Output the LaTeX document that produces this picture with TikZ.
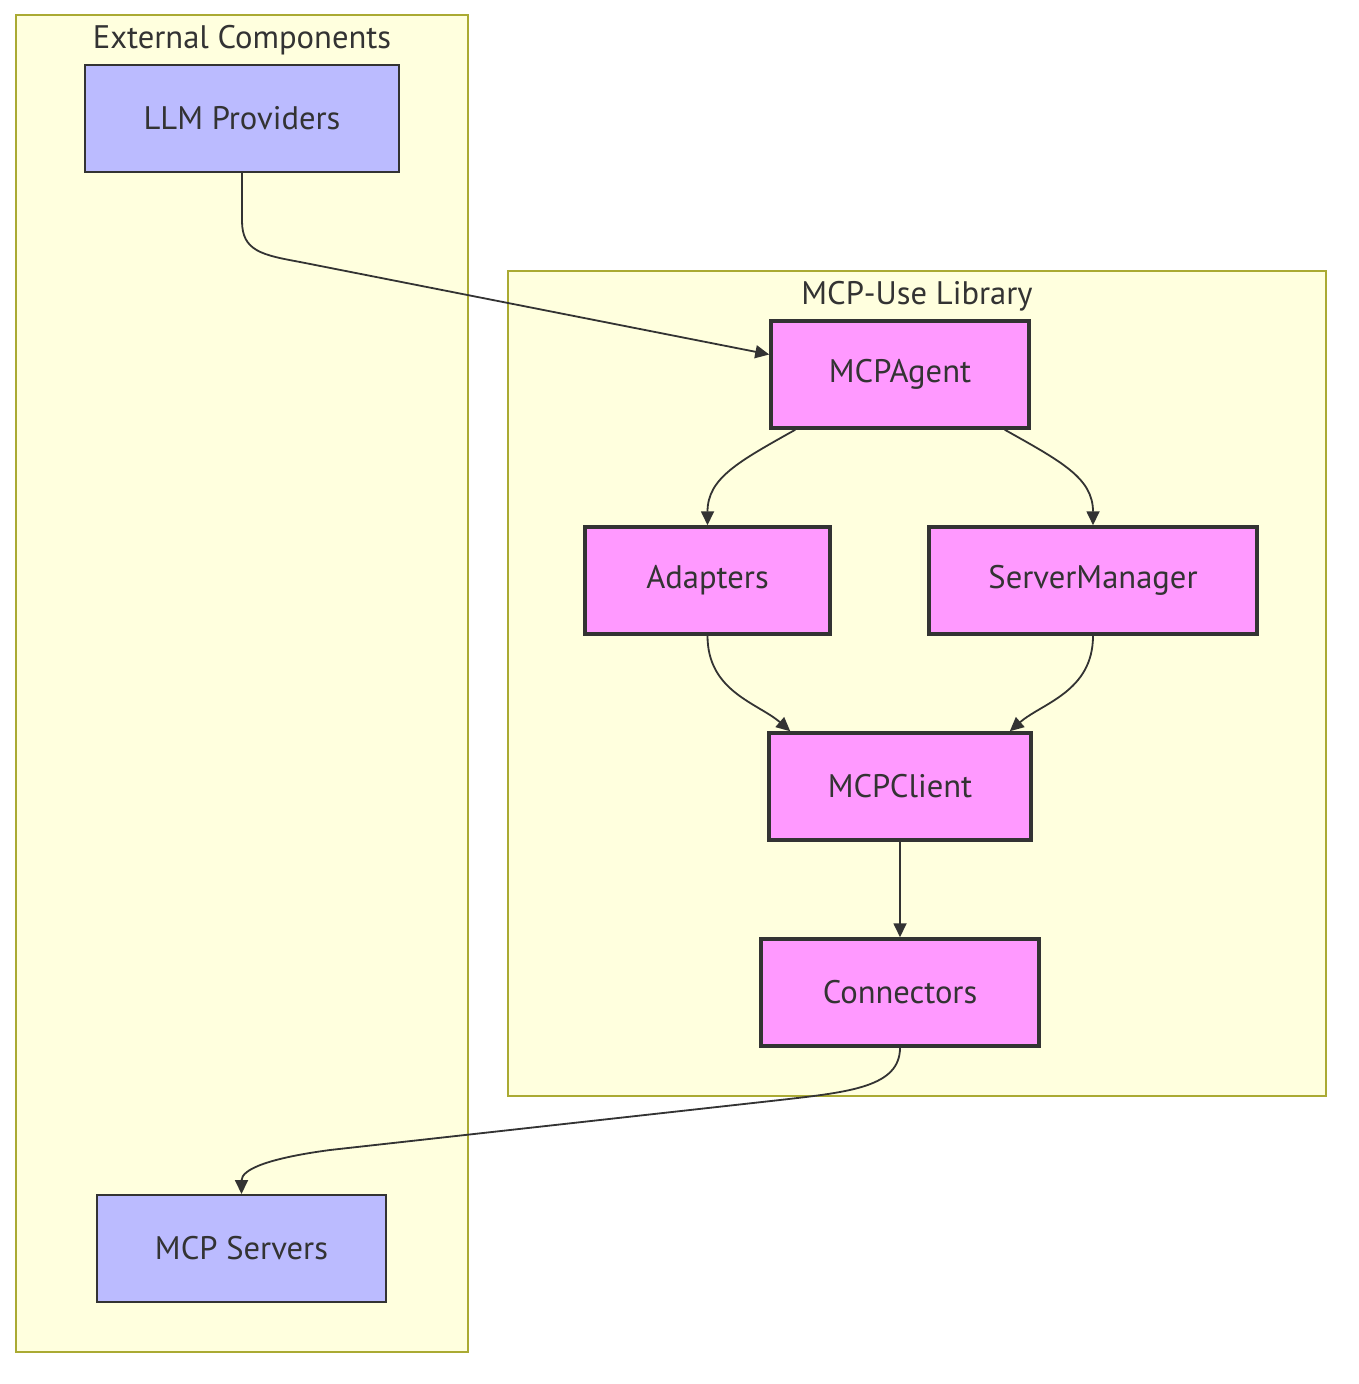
\documentclass[tikz,border=0pt]{standalone}
\usepackage{fontspec}
\setmainfont{PT Sans}
\usetikzlibrary{arrows.meta,positioning}

\definecolor{clfill}{HTML}{FFFFDE}
\definecolor{cldraw}{HTML}{AAAA33}
\definecolor{extfill}{HTML}{BBBBFF}
\definecolor{libfill}{HTML}{FF99FF}
\definecolor{ink}{HTML}{333333}

\begin{document}
\begin{tikzpicture}[x=0.5pt, y=-0.5pt, >={Triangle[length=7pt,width=6.5pt]},
    font=\fontsize{16.3}{18}\selectfont, text=ink,
    cluster/.style={draw=cldraw, fill=clfill, line width=1pt},
    extbox/.style={draw=ink, fill=extfill, line width=1pt, inner sep=0pt, minimum height=53.5pt},
    libbox/.style={draw=ink, fill=libfill, line width=1.75pt, inner sep=0pt, minimum height=53.5pt},
    edge/.style={->, draw=ink, line width=0.9pt}]
    \useasboundingbox (0,0) rectangle (1358,1384);

    % subgraphs
    \draw[cluster] (16,15) rectangle (468,1352);
    \draw[cluster] (508,271) rectangle (1326,1096);
    \node (extTitle) at (242,40) {External Components};
    \node (libTitle) at (917,296) {MCP-Use Library};

    % nodes
    \node[extbox, minimum width=157pt] (llm) at (242,118.5) {LLM Providers};
    \node[extbox, minimum width=144.5pt] (servers) at (241.5,1248.5) {MCP Servers};
    \node[libbox, minimum width=129pt] (agent) at (900,374.5) {MCPAgent};
    \node[libbox, minimum width=122.5pt] (adapters) at (707.5,580.5) {Adapters};
    \node[libbox, minimum width=164pt] (manager) at (1093,580.5) {ServerManager};
    \node[libbox, minimum width=131pt] (client) at (900,786.5) {MCPClient};
    \node[libbox, minimum width=139pt] (connectors) at (900,992.5) {Connectors};

    \coordinate (bendA) at (300,262);
    \coordinate (bendB) at (780,1100);
    \coordinate (bendC) at (330,1150);

    % edges
    \draw[edge] (llm.south) -- ++(0,48) .. controls +(0,30) and +(-38,-7) .. (bendA)
        -- ([yshift=10pt]agent.west);
    \draw[edge] ([xshift=13pt]agent.south west) .. controls +(-57,32) and +(0,-47) .. (adapters.north);
    \draw[edge] ([xshift=-13pt]agent.south east) .. controls +(57,32) and +(0,-47) .. (manager.north);
    \draw[edge] (adapters.south) .. controls +(0,56) and +(-32,-28) .. ([xshift=11.5pt]client.north west);
    \draw[edge] (manager.south) .. controls +(0,56) and +(32,-28) .. ([xshift=-11.5pt]client.north east);
    \draw[edge] (client) -- (connectors);
    \draw[edge] (connectors.south) .. controls +(0,39) and +(70,-8) .. (bendB) -- (bendC)
        .. controls +(-60,8) and +(0,-25) .. (servers.north);
  \end{tikzpicture}
\end{document}
